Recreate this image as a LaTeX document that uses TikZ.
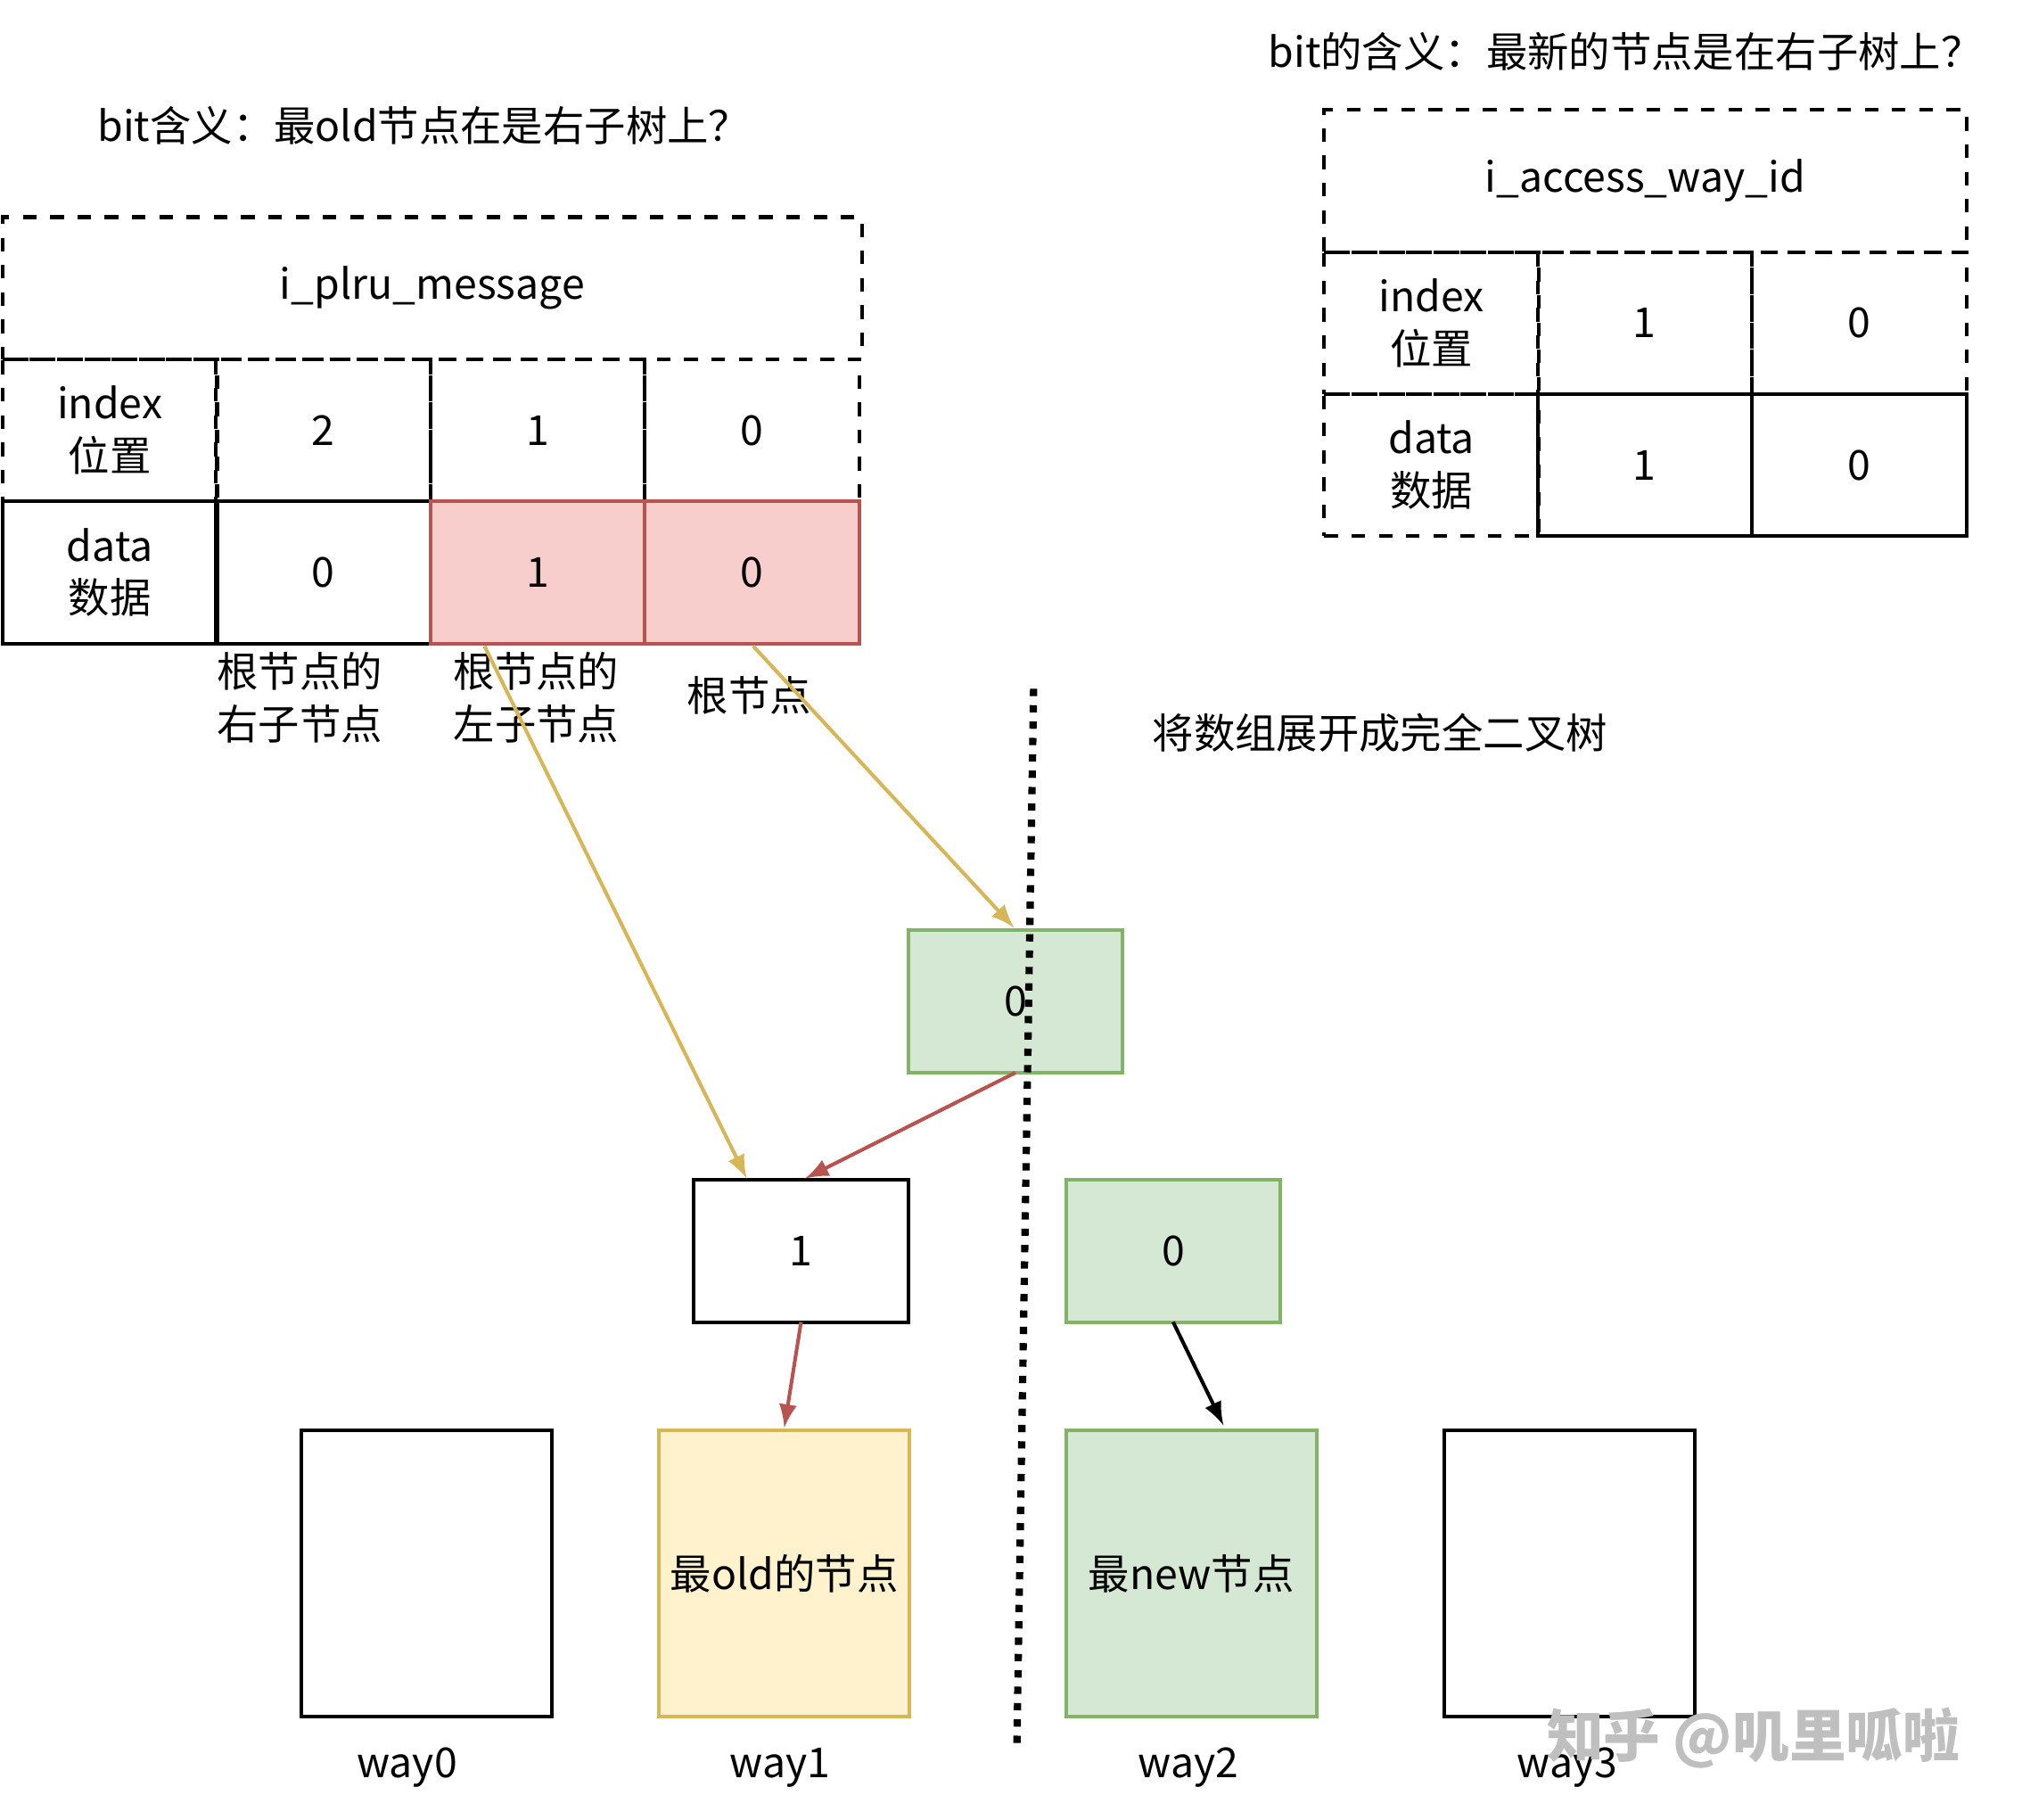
\documentclass[tikz,border=0pt]{standalone}
\usepackage{fontspec}
\setmainfont{Noto Sans CJK SC}
\begin{document}
\begin{tikzpicture}[x=0.01cm,y=-0.01cm,font=\fontsize{9.1}{11.5}\selectfont,
  cell/.style={draw,dashed,thick,outer sep=0pt,minimum width=166*0.01cm,minimum height=110*0.01cm,inner sep=0pt,align=center,anchor=north west},
  solidcell/.style={cell,solid},
  pinkcell/.style={cell,solid,fill=pinkf,draw=redl},
  tnode/.style={draw,thick,outer sep=0pt,minimum width=166*0.01cm,minimum height=110*0.01cm,inner sep=0pt,anchor=north west},
  wnode/.style={draw,thick,outer sep=0pt,minimum width=194*0.01cm,minimum height=221*0.01cm,inner sep=0pt,anchor=north west},
  yarr/.style={draw=yell,thick,-latex},
  rarr/.style={draw=redl,thick,-latex},
  lbl/.style={align=left}]
\definecolor{pinkf}{HTML}{F8CECC}\definecolor{redl}{HTML}{B85450}
\definecolor{greenf}{HTML}{D5E8D4}\definecolor{greenl}{HTML}{82B366}
\definecolor{yellf}{HTML}{FFF2CC}\definecolor{yell}{HTML}{D6B656}
\useasboundingbox (0,0) rectangle (1565,1408);
\node (t1) at (328,97) {bit含义：最old节点在是右子树上？};
\node (t2) at (1258,40) {bit的含义：最新的节点是在右子树上？};
% left table
\node[cell,minimum width=665*0.01cm] (lh) at (2,168) {i\_plru\_message};
\node[cell] (l1) at (2,278) {index\\位置};
\node[cell] (l2) at (167,278) {2};
\node[cell] (l3) at (333,278) {1};
\node[cell] (l4) at (499,278) {0};
\node[solidcell] (d1) at (2,388) {data\\数据};
\node[solidcell] (d2) at (167,388) {0};
\node[pinkcell] (d3) at (333,388) {1};
\node[pinkcell] (d4) at (499,388) {0};
\node[lbl] (c1) at (232,540) {根节点的\\右子节点};
\node[lbl] (c2) at (415,540) {根节点的\\左子节点};
\node (c3) at (580,538) {根节点};
% right table
\node[cell,minimum width=497*0.01cm] (rh) at (1025,85) {i\_access\_way\_id};
\node[cell] (r1) at (1025,195) {index\\位置};
\node[cell] (r2) at (1190,195) {1};
\node[cell] (r3) at (1356,195) {0};
\node[cell] (e1) at (1025,305) {data\\数据};
\node[solidcell] (e2) at (1190,305) {1};
\node[solidcell] (e3) at (1356,305) {0};
% tree
\node (t3) at (1068,567) {将数组展开成完全二叉树};
\node[tnode,fill=greenf,draw=greenl] (n0) at (703,720) {0};
\node[tnode] (n1) at (537,913) {1};
\node[tnode,fill=greenf,draw=greenl] (n2) at (825,913) {0};
\node[wnode] (w0) at (233,1107) {};
\node[wnode,fill=yellf,draw=yell] (w1) at (510,1107) {最old的节点};
\node[wnode,fill=greenf,draw=greenl] (w2) at (825,1107) {最new节点};
\node[wnode] (w3) at (1118,1107) {};
\node (k0) at (315,1368) {way0};
\node (k1) at (604,1368) {way1};
\node (k2) at (920,1368) {way2};
\node (k3) at (1213,1368) {way3};
\coordinate (dt) at (800,533); \coordinate (db) at (787,1355);
\draw[line width=1.6pt,dotted] (dt) -- (db);
\coordinate (a1) at (375,500); \coordinate (a2) at (583,500);
\coordinate (n1t) at (578,912); \coordinate (n0t) at (785,718);
\draw[yarr] (a1) -- (n1t);
\draw[yarr] (a2) -- (n0t);
\draw[rarr] (n0.south) -- (623,912);
\draw[rarr] (n1.south) -- (607,1105);
\draw[thick,-latex] (n2.south) -- (947,1103);
\node[text=gray!50,font=\fontsize{12.5}{14}\selectfont\bfseries] (wm) at (1357,1345) {知乎 @叽里呱啦};
\end{tikzpicture}
\end{document}
